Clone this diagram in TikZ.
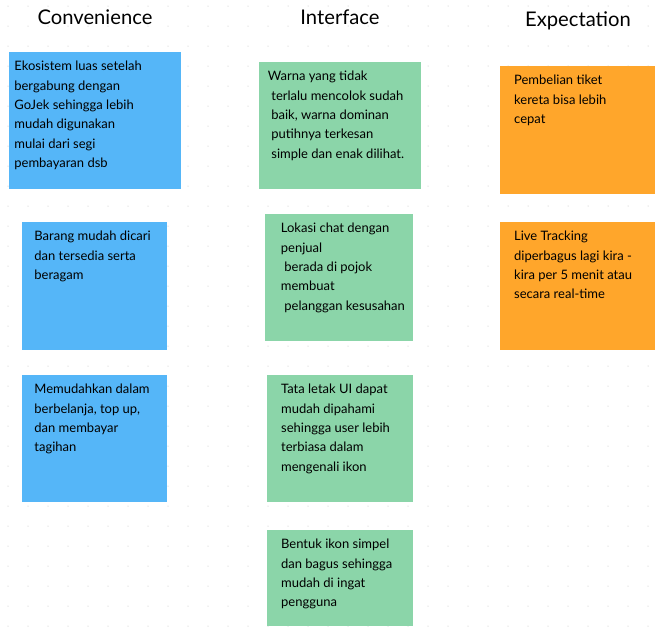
\documentclass[tikz,border=0pt]{standalone}
\usepackage{fontspec}
\setmainfont{Lato}
\tikzset{
  note/.style={draw=none, anchor=north west},
  txt/.style={anchor=north west, align=left, inner sep=0pt, font=\fontsize{7.4}{11}\selectfont},
  head/.style={font=\fontsize{11.5}{13}\selectfont}
}
\definecolor{noteblue}{HTML}{55B6F8}
\definecolor{notegreen}{HTML}{8BD5A9}
\definecolor{noteorange}{HTML}{FFA62B}
\newcommand{\sticky}[6]{%
  \fill[#6] (#1,#2) rectangle (#3,#4);
  \node[txt] at (#1+5,#2+9) {#5};}
\begin{document}
\begin{tikzpicture}[x=0.02cm,y=-0.02cm]
\useasboundingbox (0,0) rectangle (661,637);
\fill[white] (0,0) rectangle (661,637);
% dot grid
\foreach \i in {0,...,33}
  \foreach \j in {0,...,32}
    \fill[black!25] (\i*20+8,\j*20+6) circle (0.5);
% headers
\node[head] (conv) at (95,17) {Convenience};
\node[head] (intf) at (340,17) {Interface};
\node[head] (expt) at (578,21) {Expectation};
% convenience
\sticky{9}{52}{181}{189}{Ekosistem luas setelah\\bergabung dengan\\GoJek sehingga lebih\\mudah digunakan\\mulai dari segi\\pembayaran dsb}{noteblue}
\sticky{22}{222}{167}{350}{\hspace*{4pt}Barang mudah dicari\\\hspace*{4pt}dan tersedia serta\\\hspace*{4pt}beragam}{noteblue}
\sticky{22}{375}{167}{502}{\hspace*{4pt}Memudahkan dalam\\\hspace*{4pt}berbelanja, top up,\\\hspace*{4pt}dan membayar\\\hspace*{4pt}tagihan}{noteblue}
% interface
\sticky{259}{62}{421}{189}{\hspace*{2pt}Warna yang tidak\\\hspace*{4pt}terlalu mencolok sudah\\\hspace*{4pt}baik, warna dominan\\\hspace*{4pt}putihnya terkesan\\\hspace*{4pt}simple dan enak dilihat.}{notegreen}
\sticky{265}{214}{413}{341}{\hspace*{6pt}Lokasi chat dengan\\\hspace*{6pt}penjual\\\hspace*{8pt}berada di pojok\\\hspace*{6pt}membuat\\\hspace*{8pt}pelanggan kesusahan}{notegreen}
\sticky{267}{375}{413}{502}{\hspace*{5pt}Tata letak UI dapat\\\hspace*{5pt}mudah dipahami\\\hspace*{5pt}sehingga user lebih\\\hspace*{5pt}terbiasa dalam\\\hspace*{5pt}mengenali ikon}{notegreen}
\sticky{267}{530}{413}{626}{\hspace*{5pt}Bentuk ikon simpel\\\hspace*{5pt}dan bagus sehingga\\\hspace*{5pt}mudah di ingat\\\hspace*{5pt}pengguna}{notegreen}
% expectation
\sticky{500}{66}{655}{194}{\hspace*{5pt}Pembelian tiket\\\hspace*{5pt}kereta bisa lebih\\\hspace*{5pt}cepat}{noteorange}
\sticky{500}{222}{655}{350}{\hspace*{5pt}Live Tracking\\\hspace*{5pt}diperbagus lagi kira -\\\hspace*{5pt}kira per 5 menit atau\\\hspace*{5pt}secara real-time}{noteorange}
\end{tikzpicture}
\end{document}
